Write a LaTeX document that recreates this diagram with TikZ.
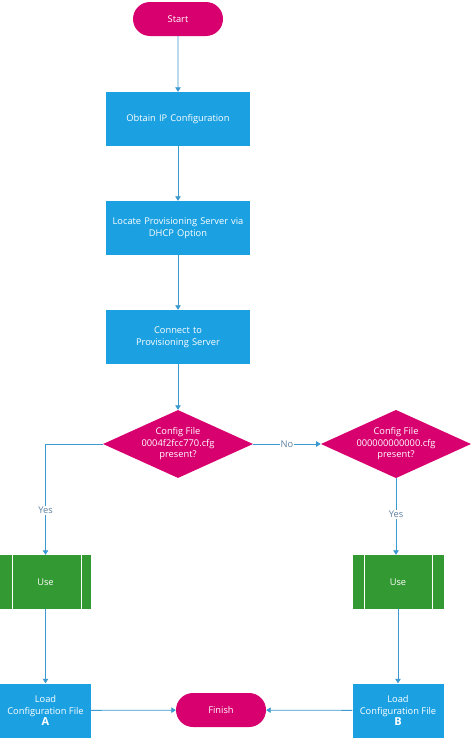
\documentclass[tikz,border=0pt]{standalone}
\usepackage{fontspec}
\setmainfont{Open Sans}
\usetikzlibrary{shapes.geometric,shapes.misc,arrows.meta}
\definecolor{pinkc}{HTML}{D8006F}
\definecolor{bluec}{HTML}{1BA1E2}
\definecolor{greenc}{HTML}{339933}
\definecolor{linec}{HTML}{3C9AD0}
\definecolor{labc}{HTML}{5E7FA0}
\begin{document}
\begin{tikzpicture}[x=1pt,y=-1pt,
  every node/.style={font=\fontsize{9.3}{11.5}\selectfont, text=white, align=center},
  term/.style={rounded rectangle, fill=pinkc, minimum width=90pt, minimum height=34pt, inner sep=0pt},
  proc/.style={rectangle, fill=bluec, minimum width=144pt, minimum height=54pt, inner sep=0pt, text width=140pt},
  small/.style={rectangle, fill=bluec, minimum width=91pt, minimum height=54pt, inner sep=0pt},
  usebox/.style={rectangle, fill=greenc, minimum width=91pt, minimum height=54pt, inner sep=0pt},
  dec/.style={diamond, fill=pinkc, aspect=2.2, minimum width=150pt, minimum height=68pt, inner sep=0pt},
  conn/.style={draw=linec, line width=0.8pt, -{Triangle[width=5.5pt,length=4.5pt]}},
  lab/.style={fill=white, text=labc, inner sep=1pt, font=\fontsize{9.3}{11}\selectfont}]
\useasboundingbox (0,0) rectangle (474,739);
\fill[white] (0,0) rectangle (474,739);
\node[term] (start) at (178,19) {Start};
\node[proc] (ip) at (178,119) {Obtain IP Configuration};
\node[proc] (loc) at (178,228) {Locate Provisioning Server via\\DHCP Option};
\node[proc] (con) at (178,337) {Connect to\\Provisioning Server};
\node[dec] (d1) at (178,444) {Config File\\0004f2fcc770.cfg\\present?};
\node[dec] (d2) at (396,444) {Config File\\000000000000.cfg\\present?};
\node[usebox] (u1) at (45.5,582) {Use};
\node[usebox] (u2) at (398,582) {Use};
\draw[white, line width=0.8pt] (12,555) -- (12,609) (81,555) -- (81,609);
\draw[white, line width=0.8pt] (364,555) -- (364,609) (432,555) -- (432,609);
\node[small] (la) at (45.5,710.5) {Load\\Configuration File\\{\fontsize{11}{12}\selectfont\bfseries A}};
\node[small] (lb) at (398,710.5) {Load\\Configuration File\\{\fontsize{11}{12}\selectfont\bfseries B}};
\node[term] (fin) at (221,710) {Finish};
\coordinate (c1) at (45.5,444);
\draw[conn] (start) -- (ip);
\draw[conn] (ip) -- (loc);
\draw[conn] (loc) -- (con);
\draw[conn] (con) -- (d1);
\draw[conn] (d1) -- node[lab] {No} (d2);
\draw[conn] (d1.west) -- (c1) -- node[lab, pos=0.6] {Yes} (u1);
\draw[conn] (d2.south) -- node[lab, pos=0.47] {Yes} (d2.south |- u2.north);
\draw[conn] (u1) -- (la);
\draw[conn] (u2) -- (lb);
\draw[conn] (la) -- (fin);
\draw[conn] (lb) -- (fin);
\end{tikzpicture}
\end{document}
